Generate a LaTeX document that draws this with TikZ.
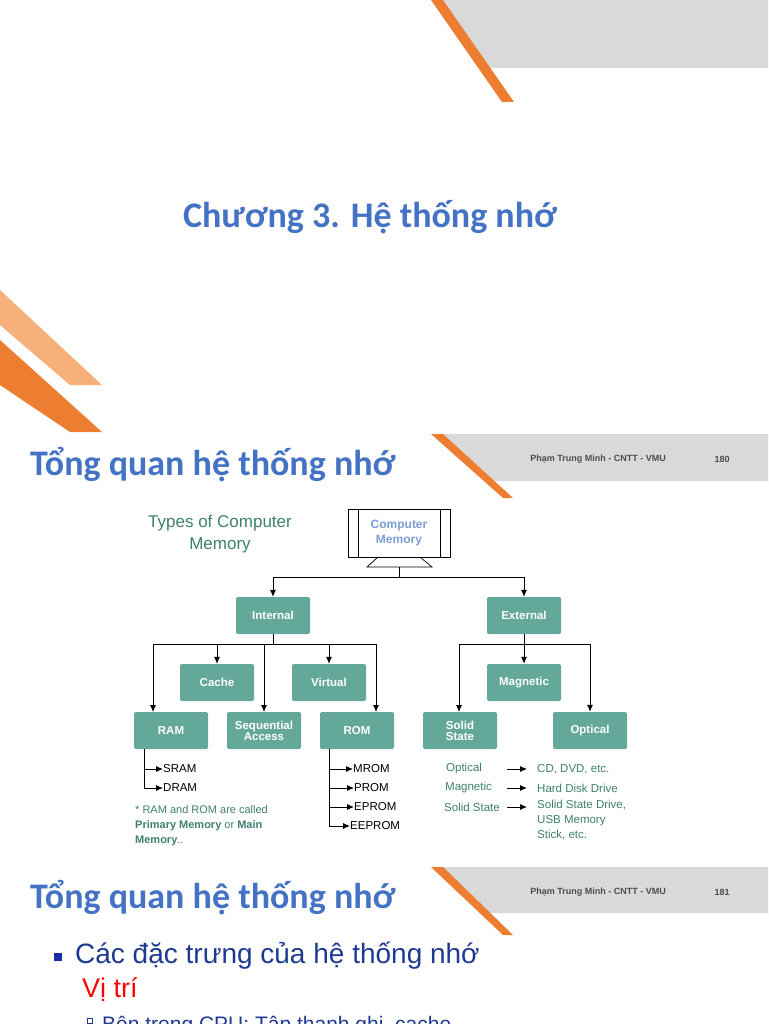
\documentclass[tikz,border=0pt]{standalone}
\usepackage{fontspec}
\setmainfont{Liberation Sans}
\newfontfamily\carlitofont{Carlito}
\usetikzlibrary{arrows.meta}
\definecolor{tbox}{HTML}{64A89A}
\definecolor{tdark}{HTML}{3E7F70}
\definecolor{tblue}{HTML}{4472C4}
\definecolor{oran}{HTML}{ED7D31}
\definecolor{loran}{HTML}{F8B07A}
\definecolor{band}{HTML}{D9D9D9}
\definecolor{dblue}{HTML}{1F3A93}
\tikzset{
 mbox/.style={fill=tbox,rounded corners=2pt,minimum width=74pt,minimum height=37pt,text=white,font=\bfseries\fontsize{11.5}{11}\selectfont,align=center,inner sep=0pt},
 arr/.style={-{Latex[length=7pt,width=6pt]},line width=0.8pt},
 ln/.style={line width=0.8pt},
 small/.style={font=\fontsize{11.5}{12}\selectfont,inner sep=0pt,anchor=west},
 ttl/.style={font=\carlitofont\bfseries\fontsize{36}{36}\selectfont,text=tblue,inner sep=0pt},
 hdr/.style={font=\bfseries\fontsize{9}{9}\selectfont,text=black!70,inner sep=0pt}
}
\begin{document}
\begin{tikzpicture}[x=1pt,y=-1pt]
\useasboundingbox (0,0) rectangle (768,1024);
% slide 1 header
\fill[band] (438,0) -- (768,0) -- (768,68) -- (488,68) -- cycle;
\fill[oran] (431,0) -- (443,0) -- (514,102) -- (502,102) -- cycle;
\node[ttl] (t1) at (370,217) {Chương 3. Hệ thống nhớ};
\fill[loran] (0,290) -- (0,325) -- (70,385) -- (102,385) -- cycle;
\fill[oran] (0,340) -- (0,385) -- (70,432) -- (102,432) -- cycle;
% slide 2 header
\fill[band] (438,434) -- (768,434) -- (768,481) -- (490,481) -- cycle;
\fill[oran] (431,434) -- (443,434) -- (513,498) -- (503,498) -- cycle;
\node[ttl,anchor=west] (t2) at (30,465) {Tổng quan hệ thống nhớ};
\node[hdr] (h2) at (598,459) {Phạm Trung Minh - CNTT - VMU};
\node[hdr] (p2) at (722,459) {180};
% diagram
\node[font=\fontsize{17}{22}\selectfont,text=tdark,align=center,inner sep=0pt] (tt) at (220,534) {Types of Computer\\Memory};
\draw[line width=0.8pt] (348,509) rectangle (450,557);
\draw[line width=0.8pt] (358,509) -- (358,557) (440,509) -- (440,557);
\node[text=tblue!70,font=\bfseries\fontsize{12}{15}\selectfont,align=center,inner sep=0pt] (cm) at (399,533) {Computer\\Memory};
\draw[line width=0.7pt] (378,557) -- (367,567) -- (432,567) -- (420,557);
\coordinate (st) at (399,567);
\node[mbox] (int) at (273,615.5) {Internal};
\node[mbox] (ext) at (524,615.5) {External};
\node[mbox] (cache) at (217,682.5) {Cache};
\node[mbox] (virt) at (329,682.5) {Virtual};
\node[mbox] (mag) at (524,682.5) {Magnetic};
\node[mbox] (ram) at (171,730.5) {RAM};
\node[mbox] (seq) at (264,730.5) {Sequential\\Access};
\node[mbox] (rom) at (357,730.5) {ROM};
\node[mbox] (ss) at (460,730.5) {Solid\\State};
\node[mbox] (opt) at (590,730.5) {Optical};
\draw[ln] (st) -- (399,577) -| (273,577);
\draw[arr] (273,577) -- (int.north);
\draw[arr] (399,577) -| (ext.north);
\draw[ln] (int.south) -- (273,644);
\draw[arr] (273,644) -| (153,712);
\draw[arr] (217,644) -- (cache.north);
\draw[arr] (264,644) -- (264,712);
\draw[arr] (329,644) -- (virt.north);
\draw[arr] (273,644) -| (376,712);
\draw[ln] (ext.south) -- (524,644);
\draw[arr] (524,644) -| (459,712);
\draw[arr] (524,644) -- (mag.north);
\draw[arr] (524,644) -| (opt.north);
% RAM list
\node[small] (sram) at (163,769) {SRAM};
\node[small] (dram) at (163,788) {DRAM};
\draw[ln] (144,749) -- (144,788);
\draw[arr] (144,769) -- (sram.west);
\draw[arr] (144,788) -- (dram.west);
% ROM list
\node[small] (mrom) at (353,769) {MROM};
\node[small] (prom) at (354,788) {PROM};
\node[small] (eprom) at (354,807) {EPROM};
\node[small] (eeprom) at (350,826) {EEPROM};
\draw[ln] (329,749) -- (329,826);
\draw[arr] (329,769) -- (mrom.west);
\draw[arr] (329,788) -- (prom.west);
\draw[arr] (329,807) -- (eprom.west);
\draw[arr] (329,826) -- (eeprom.west);
\node[small,text=tdark,align=left,anchor=north west,font=\fontsize{11}{15}\selectfont] (fn) at (135,805) {* RAM and ROM are called\\\textbf{Primary Memory} or \textbf{Main}\\\textbf{Memory}..};
% right list
\begin{scope}[every node/.style={small,text=tdark}]
\node (o1) at (446,769) {Optical};
\node (o2) at (445,788) {Magnetic};
\node (o3) at (444,807) {Solid State};
\node (r1) at (537,769) {CD, DVD, etc.};
\node (r2) at (537,788) {Hard Disk Drive};
\node[anchor=north west,align=left,font=\fontsize{11.5}{15}\selectfont] (r3) at (537,800) {Solid State Drive,\\USB Memory\\Stick, etc.};
\end{scope}
\coordinate (a1) at (507,769); \coordinate (b1) at (527,769);
\coordinate (a2) at (507,788); \coordinate (b2) at (527,788);
\coordinate (a3) at (507,807); \coordinate (b3) at (527,807);
\draw[arr] (a1) -- (b1); \draw[arr] (a2) -- (b2); \draw[arr] (a3) -- (b3);
% slide 3
\fill[band] (438,867) -- (768,867) -- (768,913) -- (490,913) -- cycle;
\fill[oran] (431,867) -- (443,867) -- (513,935) -- (503,935) -- cycle;
\node[ttl,anchor=west] (t3) at (30,898) {Tổng quan hệ thống nhớ};
\node[hdr] (h3) at (598,892) {Phạm Trung Minh - CNTT - VMU};
\node[hdr] (p3) at (722,892) {181};
\fill[dblue!80!blue] (54,953) rectangle (62,961);
\node[anchor=west,inner sep=0pt,text=dblue,font=\fontsize{28}{30}\selectfont] (b1t) at (75,956) {Các đặc trưng của hệ thống nhớ};
\node[anchor=west,inner sep=0pt,text=red,font=\fontsize{27}{28}\selectfont] (v) at (82,990) {Vị trí};
\draw[dblue,line width=0.5pt] (87,1018) rectangle (92,1023);
\node[anchor=west,inner sep=0pt,text=dblue,font=\fontsize{21}{22}\selectfont] (bt) at (102,1026) {Bên trong CPU: Tập thanh ghi, cache};
\end{tikzpicture}
\end{document}
